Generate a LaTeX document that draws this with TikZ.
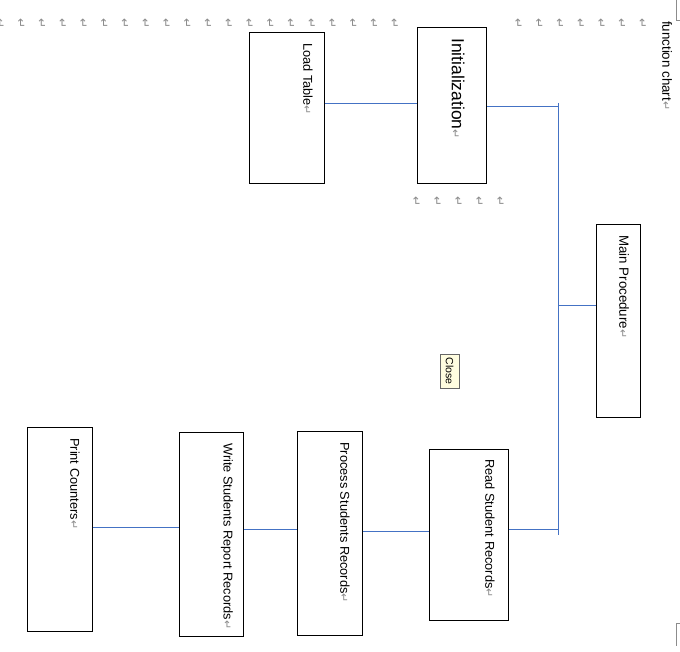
\documentclass[tikz,border=0pt]{standalone}
\usepackage{fontspec}
\setmainfont{Liberation Sans}
\newfontfamily\markfont{DejaVu Sans}
\definecolor{linkblue}{HTML}{4472C4}
\definecolor{markgray}{HTML}{8C8C8C}
\newcommand{\pmark}{{\markfont\color{markgray}\fontsize{11}{11}\selectfont\symbol{"21B5}}}
\tikzset{
  box/.style={draw=black, line width=1pt, fill=none, inner sep=0pt},
  boxtext/.style={rotate=-90, anchor=west, inner sep=0pt, font=\fontsize{12.8}{14}\selectfont},
  link/.style={draw=linkblue, line width=0.9pt},
  parmark/.style={rotate=-90, inner sep=0pt, text=markgray, font=\markfont\fontsize{12}{12}\selectfont},
  cropmark/.style={draw=black!45, line width=0.8pt},
  closebox/.style={draw=black!60, line width=0.8pt, fill=yellow!12, rotate=-90, inner sep=0pt, font=\fontsize{10.5}{11}\selectfont}
}

\begin{document}
\begin{tikzpicture}[x=1pt, y=-1pt]
  \useasboundingbox (0,0) rectangle (680,652);
  % paragraph marks
  \foreach \k in {0,...,19}
    \node[parmark] (top\k) at (20.75*\k,24) {\symbol{"21B5}};
  \foreach \k in {0,...,6}
    \node[parmark] (right\k) at (518+20.7*\k,24) {\symbol{"21B5}};
  \foreach \k in {0,...,4}
    \node[parmark] (mid\k) at (416+21*\k,202) {\symbol{"21B5}};
  \node[boxtext, font=\fontsize{13.3}{15}\selectfont] (title) at (667,21) {function chart\pmark};
  \draw[cropmark] (680,20) -- (676,20) -- (676,0);
  \draw[cropmark] (680,623) -- (676,623) -- (676,646);

  % boxes
  \node[box, minimum width=75pt, minimum height=151pt] (load) at (286.5,108.5) {};
  \node[box, minimum width=69pt, minimum height=156pt] (init) at (452,106) {};
  \node[box, minimum width=44pt, minimum height=192pt] (main) at (618,321) {};
  \node[box, minimum width=79pt, minimum height=171pt] (read) at (468.5,534.5) {};
  \node[box, minimum width=65pt, minimum height=204pt] (proc) at (329.5,533) {};
  \node[box, minimum width=64pt, minimum height=204pt] (write) at (211,534) {};
  \node[box, minimum width=65pt, minimum height=204pt] (print) at (59.5,529) {};
  \node[closebox, minimum width=34pt, minimum height=19pt] (close) at (449.5,371) {Close};

  % box texts
  \node[boxtext] (loadtxt) at (308,43) {Load Table\pmark};
  \node[boxtext, font=\fontsize{17.5}{19}\selectfont] (inittxt) at (458,38) {Initialization\pmark};
  \node[boxtext, font=\fontsize{13.3}{15}\selectfont] (maintxt) at (624,235) {Main Procedure\pmark};
  \node[boxtext] (readtxt) at (490,459) {Read Student Records\pmark};
  \node[boxtext] (proctxt) at (345,442) {Process Students Records\pmark};
  \node[boxtext] (writetxt) at (227,443) {Write Students Report Records\pmark};
  \node[boxtext] (printtxt) at (75,438) {Print Counters\pmark};

  % connectors
  \coordinate (bustop) at (558,103);
  \coordinate (busbot) at (558,535);
  \draw[link] (bustop) -- (busbot);
  \draw[link] (init.east) -- (init.east -| bustop);
  \draw[link] ([yshift=5.5pt]load.east) -- ([yshift=3pt]init.west);
  \draw[link] ([yshift=16pt]main.west) -| (bustop);
  \draw[link] ([yshift=5.5pt]read.east) -| (busbot);
  \draw[link] ([yshift=2pt]proc.east) -- ([yshift=3.5pt]read.west);
  \draw[link] ([yshift=5pt]write.east) -- ([yshift=4pt]proc.west);
  \draw[link] ([yshift=2pt]print.east) -- ([yshift=7pt]write.west);
\end{tikzpicture}
\end{document}
